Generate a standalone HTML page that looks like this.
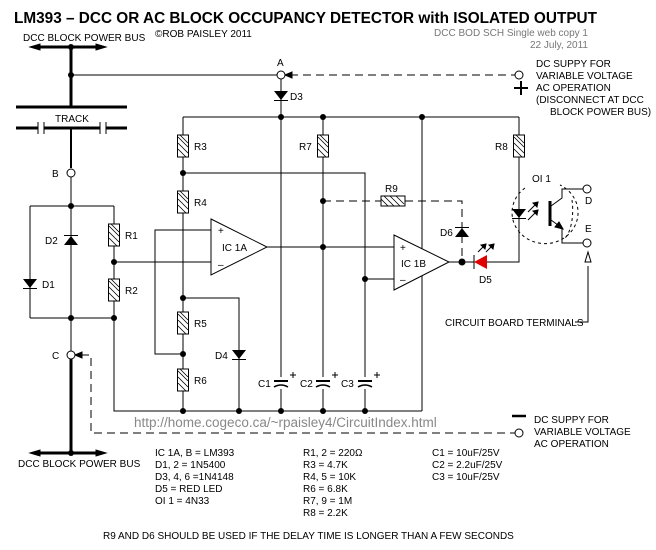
<!DOCTYPE html>
<html><head><meta charset="utf-8"><style>
html,body{margin:0;padding:0;background:#fff;}
svg{display:block;}
text{font-family:"Liberation Sans",sans-serif;font-size:10px;fill:#000;}
</style></head><body>
<svg width="656" height="550" viewBox="0 0 656 550" xmlns="http://www.w3.org/2000/svg">
<defs>
<g id="rv"><rect x="-5.5" y="-11" width="11" height="22" fill="#fff" stroke="#000"/><path d="M-5,-9 L5,1 M-5,-3 L5,7 M-5,3 L3,11 M-3,-11 L5,-3" stroke="#000" stroke-width="0.8"/></g>
<g id="rh"><rect x="-12" y="-5" width="24" height="10" fill="#fff" stroke="#000"/><path d="M-9,-5 L1,5 M-3,-5 L7,5 M3,-5 L11,3 M-12,-2 L-5,5" stroke="#000" stroke-width="0.8"/></g>
<g id="dd"><path d="M-7,-5 L7,-5 L0,4 Z" fill="#000"/><path d="M-7,4.5 L7,4.5" stroke="#000"/></g>
<g id="du"><path d="M-7,5 L7,5 L0,-4 Z" fill="#000"/><path d="M-7,-4.5 L7,-4.5" stroke="#000"/></g>
<g id="cap"><rect x="-6" y="-6" width="12" height="12" fill="#fff"/><path d="M-7,-2 L7,-2" stroke="#000" stroke-width="2"/><path d="M-7,4 Q0,0 7,4" stroke="#000" fill="none" stroke-width="1.5"/><path d="M9,-8 L15,-8 M12,-11 L12,-5" stroke="#000"/></g>
</defs>

<g stroke="#000" fill="none" stroke-width="1">
<path d="M71,47 L71,107" stroke-width="3"/>
<path d="M36,47 L100,47" stroke-width="3"/>
<path d="M30,47 L40,44 L40,50Z M106,47 L96,44 L96,50Z" fill="#000"/>
<path d="M16,107 L127,107" stroke-width="3"/>
<path d="M16,128 L38,128 M44,128 L100,128 M106,128 L127,128" stroke-width="3"/>
<path d="M38,122 L38,134 M44,122 L44,134 M100,122 L100,134 M106,122 L106,134"/>
<path d="M71,128 L71,168" stroke-width="2"/>
<path d="M71,75 L277,75"/>
<path d="M290,75 L515,75" stroke-dasharray="8,5"/>
<path d="M285,75 L292,72 L292,78Z" fill="#000"/>
<path d="M281,79 L281,117"/>
<path d="M71,177 L71,355"/>
<path d="M30,206 L114,206 M30,206 L30,318 M114,206 L114,318 M30,318 L114,318"/>
<path d="M71,359 L71,453" stroke-width="3"/>
<path d="M36,453 L100,453" stroke-width="3"/>
<path d="M30,453 L40,450 L40,456Z M106,453 L96,450 L96,456Z" fill="#000"/>
<path d="M81,355 L91,355 L91,433 L515,433" stroke-dasharray="8,5"/>
<path d="M75,355 L82,352 L82,358Z" fill="#000"/>
<path d="M114,318 L114,411 L422,411"/>
<path d="M183,117 L519,117"/>
<path d="M183,117 L183,411"/>
<path d="M183,173 L365,173 L365,411"/>
<path d="M183,298 L239,298 L239,411"/>
<path d="M183,354 L155,354 L155,230 L211,230"/>
<path d="M114,262 L211,262"/>
<path d="M281,117 L281,411 M323,117 L323,411 M422,117 L422,411"/>
<path d="M267,247 L394,247"/>
<path d="M365,279 L394,279"/>
<path d="M323,201 L381,201 M405,201 L462,201 L462,262" stroke-dasharray="8,5"/>
<path d="M449,262 L474,262 M487,262 L519,262 L519,117"/>
<path d="M211,219 L267,247 L211,275Z" fill="#fff"/>
<path d="M394,235 L449,262 L394,290Z" fill="#fff"/>
<path d="M525,188 A33,31 0 1,0 560,185" stroke-dasharray="3,3"/>
<path d="M572,200 A12,30 0 0,1 565,238" stroke-dasharray="3,3"/>
<path d="M550,201 L550,226" stroke-width="3"/>
<path d="M551,206 L562,198 L562,189 L583,189"/>
<path d="M551,220 L562,228 L562,243 L583,243"/>
<path d="M563,229 L555,227 L559,222Z" fill="#000"/>
<path d="M528,212 L538,202 M528,220 L538,210"/>
<path d="M538,202 L533,203 L537,207Z M538,210 L533,211 L537,215Z" fill="#000"/>
<path d="M588,266 L588,322 L575,322"/>
<path d="M588,252 L585,262 L591,262Z" fill="#fff"/>
<path d="M478,252 L486,244 M486,252 L494,244"/>
<path d="M486,244 L481,245 L485,249Z M494,244 L489,245 L493,249Z" fill="#000"/>
<circle cx="71" cy="173" r="4" fill="#fff"/>
<circle cx="281" cy="75" r="4" fill="#fff"/>
<circle cx="71" cy="355" r="4" fill="#fff"/>
<circle cx="519" cy="75" r="4" fill="#fff"/>
<circle cx="519" cy="433" r="4" fill="#fff"/>
<circle cx="587" cy="189" r="4" fill="#fff"/>
<circle cx="587" cy="243" r="4" fill="#fff"/>
<path d="M514,88 L528,88 M521,81 L521,95" stroke-width="2"/>
<path d="M512,416 L526,416" stroke-width="2.5"/>
</g>
<g fill="#000">
<circle cx="71" cy="47" r="3"/><circle cx="71" cy="75" r="3"/><circle cx="71" cy="206" r="3"/>
<circle cx="71" cy="318" r="3"/><circle cx="114" cy="318" r="3"/><circle cx="114" cy="262" r="3"/>
<circle cx="71" cy="453" r="3"/>
<circle cx="281" cy="117" r="3"/><circle cx="323" cy="117" r="3"/><circle cx="422" cy="117" r="3"/>
<circle cx="183" cy="173" r="3"/><circle cx="183" cy="298" r="3"/><circle cx="183" cy="354" r="3"/>
<circle cx="183" cy="411" r="3"/><circle cx="239" cy="411" r="3"/><circle cx="281" cy="411" r="3"/>
<circle cx="323" cy="411" r="3"/><circle cx="365" cy="411" r="3"/>
<circle cx="323" cy="201" r="3"/><circle cx="323" cy="247" r="3"/><circle cx="365" cy="279" r="3"/>
<circle cx="462" cy="262" r="3.5"/>
</g>
<use href="#rv" x="114" y="235"/><use href="#rv" x="114" y="290"/>
<use href="#rv" x="183" y="146"/><use href="#rv" x="183" y="202"/>
<use href="#rv" x="183" y="323"/><use href="#rv" x="183" y="380"/>
<use href="#rv" x="323" y="146"/><use href="#rv" x="519" y="146"/>
<use href="#rh" x="393" y="201"/>
<use href="#dd" x="281" y="96"/><use href="#dd" x="30" y="284"/><use href="#du" x="71" y="240"/>
<use href="#dd" x="239" y="355"/><use href="#du" x="462" y="232"/><use href="#dd" x="519" y="214"/>
<use href="#cap" x="281" y="383"/><use href="#cap" x="323" y="383"/><use href="#cap" x="365" y="383"/>
<path d="M474,262 L487,255 L487,269Z" fill="#e00000"/><path d="M474,255 L474,269" stroke="#000"/>

<text x="14" y="23" textLength="583" lengthAdjust="spacingAndGlyphs" style="font-size:16px;font-weight:bold">LM393 – DCC OR AC BLOCK OCCUPANCY DETECTOR with ISOLATED OUTPUT</text>
<text x="155" y="37">©ROB PAISLEY 2011</text>
<text x="23" y="41">DCC BLOCK POWER BUS</text>
<text x="588" y="36" text-anchor="end" style="fill:#777">DCC BOD SCH Single web copy 1</text>
<text x="588" y="48" text-anchor="end" style="fill:#777">22 July, 2011</text>
<text x="277" y="66">A</text>
<text x="290" y="100">D3</text>
<text x="55" y="122">TRACK</text>
<text x="52" y="177">B</text>
<text x="52" y="359">C</text>
<text x="536" y="67">DC SUPPY FOR</text>
<text x="536" y="79">VARIABLE VOLTAGE</text>
<text x="536" y="91">AC OPERATION</text>
<text x="536" y="103">(DISCONNECT AT DCC</text>
<text x="550" y="115">BLOCK POWER BUS)</text>
<text x="194" y="150">R3</text><text x="194" y="206">R4</text><text x="194" y="327">R5</text><text x="194" y="384">R6</text>
<text x="299" y="150">R7</text><text x="495" y="150">R8</text><text x="385" y="192">R9</text>
<text x="125" y="239">R1</text><text x="125" y="294">R2</text>
<text x="45" y="244">D2</text><text x="42" y="288">D1</text><text x="215" y="359">D4</text>
<text x="440" y="236">D6</text><text x="479" y="283">D5</text>
<text x="532" y="182">OI 1</text>
<text x="585" y="204">D</text><text x="585" y="232">E</text>
<text x="222" y="251">IC 1A</text><text x="401" y="267">IC 1B</text>
<text x="218" y="234">+</text><text x="218" y="268">–</text>
<text x="400" y="251">+</text><text x="400" y="283">–</text>
<text x="258" y="387">C1</text><text x="300" y="387">C2</text><text x="341" y="387">C3</text>
<text x="445" y="326">CIRCUIT BOARD TERMINALS</text>
<text x="18" y="467">DCC BLOCK POWER BUS</text>
<text x="134" y="427" style="font-size:13.5px;fill:#888">http://home.cogeco.ca/~rpaisley4/CircuitIndex.html</text>
<text x="534" y="423">DC SUPPY FOR</text>
<text x="534" y="435">VARIABLE VOLTAGE</text>
<text x="534" y="447">AC OPERATION</text>
<text x="155" y="456">IC 1A, B = LM393</text>
<text x="155" y="468">D1, 2 = 1N5400</text>
<text x="155" y="480">D3, 4, 6 =1N4148</text>
<text x="155" y="492">D5 = RED LED</text>
<text x="155" y="504">OI 1 = 4N33</text>
<text x="303" y="456">R1, 2 = 220Ω</text>
<text x="303" y="468">R3 = 4.7K</text>
<text x="303" y="480">R4, 5 = 10K</text>
<text x="303" y="492">R6 = 6.8K</text>
<text x="303" y="504">R7, 9 = 1M</text>
<text x="303" y="516">R8 = 2.2K</text>
<text x="432" y="456">C1 = 10uF/25V</text>
<text x="432" y="468">C2 = 2.2uF/25V</text>
<text x="432" y="480">C3 = 10uF/25V</text>
<text x="103" y="539">R9 AND D6 SHOULD BE USED IF THE DELAY TIME IS LONGER THAN A FEW SECONDS</text>
</svg>
</body></html>
